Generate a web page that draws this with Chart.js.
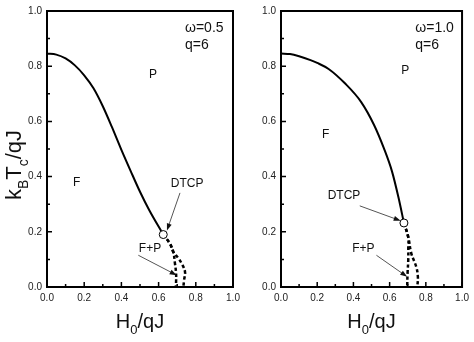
<!DOCTYPE html>
<html>
<head>
<meta charset="utf-8">
<script src="https://cdn.jsdelivr.net/npm/chart.js@4.4.0/dist/chart.umd.min.js"></script>
<style>
  html, body { margin: 0; padding: 0; background: #fff; }
  #wrap { position: relative; width: 474px; height: 342px; }
  #wrap canvas { position: absolute; left: 0; top: 0; }
</style>
</head>
<body>
<div id="wrap">
  <canvas id="left" width="474" height="342"></canvas>
  <canvas id="right" width="474" height="342"></canvas>
</div>
<script>
// tick values (both axes)
const tickValues = [0, 0.2, 0.4, 0.6, 0.8, 1.0];
const minorValues = [0.1, 0.3, 0.5, 0.7, 0.9];

// omega = 0.5 panel
const solidX05 = [0, 0.05, 0.1, 0.15, 0.2, 0.25, 0.3, 0.35, 0.4, 0.45, 0.5, 0.55, 0.625];
const solidY05 = [0.846, 0.842, 0.828, 0.803, 0.767, 0.720, 0.655, 0.578, 0.497, 0.420, 0.345, 0.278, 0.190];
const outerX05 = [0.625, 0.661, 0.679, 0.705, 0.724, 0.742, 0.737, 0.733];
const outerY05 = [0.190, 0.157, 0.127, 0.105, 0.085, 0.055, 0.025, 0.0];
const innerX05 = [0.625, 0.661, 0.679, 0.688, 0.694, 0.694, 0.693];
const innerY05 = [0.190, 0.157, 0.127, 0.085, 0.049, 0.020, 0.0];
const dtcp05 = [0.625, 0.190];

// omega = 1.0 panel
const solidX10 = [0, 0.05, 0.1, 0.163, 0.2, 0.263, 0.353, 0.443, 0.514, 0.568, 0.613, 0.649, 0.679];
const solidY10 = [0.846, 0.844, 0.836, 0.822, 0.812, 0.790, 0.738, 0.670, 0.587, 0.503, 0.419, 0.324, 0.232];
const outerX10 = [0.679, 0.703, 0.720, 0.747, 0.756, 0.753];
const outerY10 = [0.232, 0.180, 0.121, 0.073, 0.037, 0.0];
const innerX10 = [0.679, 0.703, 0.703, 0.703, 0.699, 0.697];
const innerY10 = [0.232, 0.180, 0.145, 0.100, 0.049, 0.0];
const dtcp10 = [0.679, 0.232];

// in-plot labels: [text, x, y, align]
const labels05 = [['P', 0.57, 0.77, 'center'], ['F', 0.16, 0.377, 'center'], ['DTCP', 0.753, 0.376, 'center'],
  ['F+P', 0.554, 0.14, 'center'], ['\u03c9=0.5', 0.742, 0.939, 'left'], ['q=6', 0.742, 0.875, 'left']];
const labels10 = [['P', 0.686, 0.785, 'center'], ['F', 0.247, 0.552, 'center'], ['DTCP', 0.348, 0.33, 'center'],
  ['F+P', 0.455, 0.14, 'center'], ['\u03c9=1.0', 0.742, 0.939, 'left'], ['q=6', 0.742, 0.875, 'left']];

// arrows: [x1, y1, x2, y2] (tail -> head)
const arrows05 = [[0.715, 0.341, 0.645, 0.205], [0.491, 0.115, 0.697, 0.043]];
const arrows10 = [[0.435, 0.294, 0.661, 0.240], [0.527, 0.115, 0.697, 0.037]];

const pts = (xs, ys) => xs.map((x, i) => ({ x: x, y: ys[i] }));

function drawParts(ctx, parts, big, small) {
  // measure then draw centred around current origin
  let w = 0;
  parts.forEach(p => {
    ctx.font = (p[1] ? small : big) + 'px Arial, "Liberation Sans", sans-serif';
    w += ctx.measureText(p[0]).width;
  });
  let cx = -w / 2;
  parts.forEach(p => {
    ctx.font = (p[1] ? small : big) + 'px Arial, "Liberation Sans", sans-serif';
    ctx.fillText(p[0], cx, p[1] ? big * 0.3 : 0);
    cx += ctx.measureText(p[0]).width;
  });
}

const framePlugin = {
  id: 'frame',
  afterDatasetsDraw(chart, args, opts) {
    const ctx = chart.ctx;
    const a = chart.chartArea;
    const xs = chart.scales.x, ys = chart.scales.y;
    ctx.save();

    // arrows
    opts.arrows.forEach(ar => {
      const x1 = xs.getPixelForValue(ar[0]), y1 = ys.getPixelForValue(ar[1]);
      const x2 = xs.getPixelForValue(ar[2]), y2 = ys.getPixelForValue(ar[3]);
      const ang = Math.atan2(y2 - y1, x2 - x1);
      ctx.strokeStyle = '#555';
      ctx.lineWidth = 1;
      ctx.beginPath();
      ctx.moveTo(x1, y1);
      ctx.lineTo(x2 - 5 * Math.cos(ang), y2 - 5 * Math.sin(ang));
      ctx.stroke();
      ctx.fillStyle = '#111';
      ctx.beginPath();
      ctx.moveTo(x2, y2);
      ctx.lineTo(x2 - 7 * Math.cos(ang) + 2.5 * Math.sin(ang), y2 - 7 * Math.sin(ang) - 2.5 * Math.cos(ang));
      ctx.lineTo(x2 - 7 * Math.cos(ang) - 2.5 * Math.sin(ang), y2 - 7 * Math.sin(ang) + 2.5 * Math.cos(ang));
      ctx.closePath();
      ctx.fill();
    });

    // text labels
    ctx.fillStyle = '#111';
    ctx.textBaseline = 'middle';
    opts.labels.forEach(l => {
      const big = l[0].indexOf('=') >= 0;
      ctx.font = (big ? 14 : 12) + 'px Arial, "Liberation Sans", sans-serif';
      ctx.textAlign = l[3];
      ctx.fillText(l[0], xs.getPixelForValue(l[1]), ys.getPixelForValue(l[2]));
    });

    // frame
    ctx.strokeStyle = '#000';
    ctx.lineWidth = 2;
    ctx.strokeRect(a.left, a.top, a.right - a.left, a.bottom - a.top);

    // inward ticks
    ctx.lineWidth = 1.5;
    ctx.beginPath();
    tickValues.concat(minorValues).forEach(v => {
      const len = minorValues.includes(v) ? 3 : 5;
      const px = xs.getPixelForValue(v);
      ctx.moveTo(px, a.bottom);
      ctx.lineTo(px, a.bottom - len);
      const py = ys.getPixelForValue(v);
      ctx.moveTo(a.left, py);
      ctx.lineTo(a.left + len, py);
    });
    ctx.stroke();

    // axis titles
    ctx.fillStyle = '#111';
    ctx.textAlign = 'left';
    ctx.textBaseline = 'alphabetic';
    ctx.save();
    ctx.translate((a.left + a.right) / 2, 328);
    drawParts(ctx, [['H', false], ['0', true], ['/qJ', false]], 20, 13);
    ctx.restore();
    if (opts.yTitle) {
      ctx.save();
      ctx.translate(21, 165);
      ctx.rotate(-Math.PI / 2);
      drawParts(ctx, [['k', false], ['B', true], ['T', false], ['c', true], ['/qJ', false]], 22, 14);
      ctx.restore();
    }
    ctx.restore();
  }
};

function makePanel(id, solid, outer, inner, dtcp, labels, arrows, padLeft, padRight, yTitle) {
  new Chart(document.getElementById(id), {
    type: 'scatter',
    data: {
      datasets: [
        { data: [{ x: dtcp[0], y: dtcp[1] }], order: 0, pointRadius: 4, pointBackgroundColor: '#fff', pointBorderColor: '#000', pointBorderWidth: 1 },
        { data: solid, order: 1, showLine: true, borderColor: '#000', borderWidth: 2, pointRadius: 0, cubicInterpolationMode: 'monotone', fill: false },
        { data: outer, order: 2, showLine: true, borderColor: '#000', borderWidth: 2.5, borderDash: [3.5, 2.5], pointRadius: 0, tension: 0.4, fill: false },
        { data: inner, order: 2, showLine: true, borderColor: '#000', borderWidth: 2.5, borderDash: [3.5, 2.5], pointRadius: 0, tension: 0.4, fill: false }
      ]
    },
    options: {
      responsive: false,
      animation: false,
      layout: { padding: { left: padLeft, right: padRight, top: 8, bottom: 0 } },
      plugins: {
        legend: { display: false },
        tooltip: { enabled: false },
        frame: { labels: labels, arrows: arrows, yTitle: yTitle }
      },
      scales: {
        x: {
          type: 'linear', min: 0, max: 1,
          grid: { display: false, drawTicks: false },
          border: { display: false },
          afterFit: s => { s.height = 55; },
          ticks: {
            stepSize: 0.2, padding: 5, color: '#222',
            font: { size: 10, family: 'Arial, "Liberation Sans", sans-serif' },
            maxRotation: 0,
            callback: v => v.toFixed(1)
          }
        },
        y: {
          type: 'linear', min: 0, max: 1,
          grid: { display: false, drawTicks: false },
          border: { display: false },
          afterFit: s => { s.width = 47; },
          ticks: {
            stepSize: 0.2, padding: 5, color: '#222',
            font: { size: 10, family: 'Arial, "Liberation Sans", sans-serif' },
            callback: v => v.toFixed(1)
          }
        }
      }
    },
    plugins: [framePlugin]
  });
}

makePanel('left', pts(solidX05, solidY05), pts(outerX05, outerY05), pts(innerX05, innerY05), dtcp05,
  labels05, arrows05, 0, 241, true);
makePanel('right', pts(solidX10, solidY10), pts(outerX10, outerY10), pts(innerX10, innerY10), dtcp10,
  labels10, arrows10, 234, 7, false);
</script>
</body>
</html>
